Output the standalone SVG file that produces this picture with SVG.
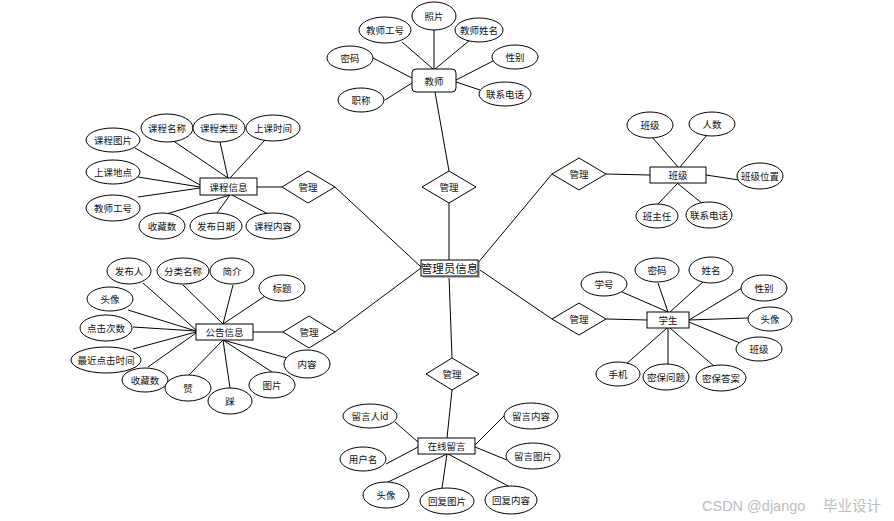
<svg xmlns="http://www.w3.org/2000/svg" width="894" height="521" viewBox="0 0 894 521">
<style>
text{font-family:"Noto Sans CJK SC","Liberation Sans",sans-serif;font-size:9.5px;fill:#111;text-anchor:middle;dominant-baseline:central}
.e{fill:#fff;stroke:#000;stroke-width:1}
.r{fill:#fff;stroke:#000;stroke-width:1}
.d{fill:#fff;stroke:#000;stroke-width:1}
.c line{stroke:#000;stroke-width:1}
.big{font-size:11.5px}
.wm{font-family:"Liberation Sans","Noto Sans CJK SC",sans-serif;font-size:14.5px;fill:#bdbdbd;text-anchor:start}
</style>
<rect width="894" height="521" fill="#fff"/>
<g class="c" id="connectors">
<!-- teacher -->
<line x1="434" y1="30" x2="434" y2="69"/>
<line x1="402" y1="42" x2="433" y2="69"/>
<line x1="470" y1="40" x2="435" y2="69"/>
<line x1="373" y1="58" x2="412" y2="78"/>
<line x1="385" y1="100" x2="412" y2="83"/>
<line x1="495" y1="60" x2="456" y2="80"/>
<line x1="480" y1="90" x2="456" y2="82"/>
<line x1="435" y1="92" x2="449" y2="171"/>
<!-- center -->
<line x1="449" y1="203" x2="449" y2="260"/>
<line x1="335" y1="187" x2="421" y2="267"/>
<line x1="335" y1="332" x2="421" y2="268"/>
<line x1="477" y1="264" x2="552" y2="174"/>
<line x1="477" y1="268" x2="552" y2="319"/>
<line x1="449" y1="276" x2="452" y2="358"/>
<!-- course -->
<line x1="257" y1="187" x2="282" y2="187"/>
<line x1="135" y1="148" x2="200" y2="185"/>
<line x1="172" y1="140" x2="228" y2="178"/>
<line x1="220" y1="142" x2="228" y2="178"/>
<line x1="265" y1="140" x2="230" y2="178"/>
<line x1="138" y1="177" x2="200" y2="187"/>
<line x1="138" y1="197" x2="200" y2="188"/>
<line x1="163" y1="215" x2="230" y2="195"/>
<line x1="217" y1="213" x2="230" y2="195"/>
<line x1="270" y1="215" x2="232" y2="195"/>
<!-- class -->
<line x1="606" y1="174" x2="650" y2="175"/>
<line x1="652" y1="137" x2="678" y2="167"/>
<line x1="707" y1="135" x2="680" y2="167"/>
<line x1="739" y1="180" x2="706" y2="175"/>
<line x1="658" y1="204" x2="678" y2="183"/>
<line x1="703" y1="204" x2="677" y2="183"/>
<!-- student -->
<line x1="606" y1="319" x2="647" y2="320"/>
<line x1="622" y1="292" x2="668" y2="312"/>
<line x1="658" y1="283" x2="668" y2="312"/>
<line x1="703" y1="282" x2="670" y2="312"/>
<line x1="742" y1="288" x2="689" y2="320"/>
<line x1="748" y1="318" x2="689" y2="320"/>
<line x1="740" y1="343" x2="689" y2="322"/>
<line x1="625" y1="365" x2="667" y2="328"/>
<line x1="668" y1="367" x2="668" y2="328"/>
<line x1="715" y1="367" x2="670" y2="328"/>
<!-- announcement -->
<line x1="253" y1="332" x2="283" y2="332"/>
<line x1="143" y1="283" x2="196" y2="330"/>
<line x1="183" y1="285" x2="223" y2="324"/>
<line x1="233" y1="285" x2="223" y2="324"/>
<line x1="265" y1="296" x2="223" y2="324"/>
<line x1="128" y1="310" x2="196" y2="331"/>
<line x1="133" y1="327" x2="196" y2="331"/>
<line x1="133" y1="349" x2="196" y2="332"/>
<line x1="148" y1="367" x2="196" y2="333"/>
<line x1="187" y1="377" x2="223" y2="340"/>
<line x1="230" y1="388" x2="223" y2="340"/>
<line x1="272" y1="372" x2="223" y2="340"/>
<line x1="287" y1="358" x2="223" y2="340"/>
<!-- message -->
<line x1="452" y1="390" x2="447" y2="438"/>
<line x1="395" y1="422" x2="418" y2="442"/>
<line x1="386" y1="464" x2="418" y2="447"/>
<line x1="388" y1="482" x2="447" y2="454"/>
<line x1="442" y1="488" x2="447" y2="454"/>
<line x1="510" y1="487" x2="448" y2="454"/>
<line x1="505" y1="415" x2="475" y2="445"/>
<line x1="507" y1="460" x2="475" y2="447"/>
</g>

<g id="teacher">
<rect class="r" x="412" y="69" width="44" height="23" rx="4"/><text x="434" y="80.5">教师</text>
</g>
<g id="t-photo"><ellipse class="e" cx="434" cy="16" rx="22" ry="14"/><text x="434" y="16">照片</text></g>
<g id="t-no"><ellipse class="e" cx="385" cy="30" rx="26" ry="13"/><text x="385" y="30">教师工号</text></g>
<g id="t-name"><ellipse class="e" cx="479" cy="30" rx="24" ry="12"/><text x="479" y="30">教师姓名</text></g>
<g id="t-pwd"><ellipse class="e" cx="350" cy="58" rx="23" ry="12"/><text x="350" y="58">密码</text></g>
<g id="t-sex"><ellipse class="e" cx="515" cy="57" rx="23" ry="12"/><text x="515" y="57">性别</text></g>
<g id="t-title"><ellipse class="e" cx="361" cy="100" rx="23" ry="12"/><text x="361" y="100">职称</text></g>
<g id="t-tel"><ellipse class="e" cx="505" cy="94" rx="26" ry="12"/><text x="505" y="94">联系电话</text></g>

<g id="admin">
<rect x="423" y="262" width="57" height="16" fill="#bbb"/>
<rect class="r" x="421" y="260" width="57" height="16"/><text class="big" x="449.5" y="268">管理员信息</text>
</g>
<g id="rel-teacher"><polygon class="d" points="449,171 476,187 449,203 422,187"/><text x="449" y="187">管理</text></g>
<g id="rel-course"><polygon class="d" points="308,171 335,187 308,203 282,187"/><text x="308" y="187">管理</text></g>
<g id="rel-notice"><polygon class="d" points="309,316 335,332 309,348 283,332"/><text x="309" y="332">管理</text></g>
<g id="rel-msg"><polygon class="d" points="452,358 479,374 452,390 426,374"/><text x="452" y="374">管理</text></g>
<g id="rel-class"><polygon class="d" points="579,158 606,174 579,190 552,174"/><text x="579" y="174">管理</text></g>
<g id="rel-student"><polygon class="d" points="579,303 606,319 579,335 552,319"/><text x="579" y="319">管理</text></g>

<g id="course"><rect class="r" x="200" y="178" width="57" height="17"/><text x="228.5" y="186.5">课程信息</text></g>
<g id="c-img"><ellipse class="e" cx="113" cy="140" rx="27" ry="12"/><text x="113" y="140">课程图片</text></g>
<g id="c-name"><ellipse class="e" cx="167" cy="128" rx="26" ry="14"/><text x="167" y="128">课程名称</text></g>
<g id="c-type"><ellipse class="e" cx="219" cy="128" rx="26" ry="14"/><text x="219" y="128">课程类型</text></g>
<g id="c-time"><ellipse class="e" cx="273" cy="128" rx="27" ry="13"/><text x="273" y="128">上课时间</text></g>
<g id="c-place"><ellipse class="e" cx="113" cy="172" rx="27" ry="12"/><text x="113" y="172">上课地点</text></g>
<g id="c-tno"><ellipse class="e" cx="113" cy="208" rx="27" ry="13"/><text x="113" y="208">教师工号</text></g>
<g id="c-fav"><ellipse class="e" cx="162" cy="226" rx="23" ry="13"/><text x="162" y="226">收藏数</text></g>
<g id="c-date"><ellipse class="e" cx="216" cy="226" rx="26" ry="13"/><text x="216" y="226">发布日期</text></g>
<g id="c-content"><ellipse class="e" cx="273" cy="226" rx="27" ry="13"/><text x="273" y="226">课程内容</text></g>

<g id="class"><rect class="r" x="650" y="167" width="56" height="16"/><text x="678" y="175">班级</text></g>
<g id="k-name"><ellipse class="e" cx="650" cy="125" rx="23" ry="13"/><text x="650" y="125">班级</text></g>
<g id="k-num"><ellipse class="e" cx="712" cy="124" rx="23" ry="12"/><text x="712" y="124">人数</text></g>
<g id="k-pos"><ellipse class="e" cx="760" cy="176" rx="23" ry="13"/><text x="760" y="176">班级位置</text></g>
<g id="k-head"><ellipse class="e" cx="657" cy="216" rx="21" ry="12"/><text x="657" y="216">班主任</text></g>
<g id="k-tel"><ellipse class="e" cx="709" cy="215" rx="23" ry="13"/><text x="709" y="215">联系电话</text></g>

<g id="student"><rect class="r" x="647" y="312" width="42" height="16"/><text x="668" y="320">学生</text></g>
<g id="s-no"><ellipse class="e" cx="604" cy="284" rx="23" ry="12"/><text x="604" y="284">学号</text></g>
<g id="s-pwd"><ellipse class="e" cx="657" cy="270" rx="22" ry="12"/><text x="657" y="270">密码</text></g>
<g id="s-name"><ellipse class="e" cx="711" cy="270" rx="22" ry="13"/><text x="711" y="270">姓名</text></g>
<g id="s-sex"><ellipse class="e" cx="764" cy="288" rx="23" ry="13"/><text x="764" y="288">性别</text></g>
<g id="s-avatar"><ellipse class="e" cx="770" cy="319" rx="22" ry="12"/><text x="770" y="319">头像</text></g>
<g id="s-class"><ellipse class="e" cx="759" cy="349" rx="23" ry="12"/><text x="759" y="349">班级</text></g>
<g id="s-phone"><ellipse class="e" cx="618" cy="374" rx="22" ry="12"/><text x="618" y="374">手机</text></g>
<g id="s-q"><ellipse class="e" cx="666" cy="377" rx="23" ry="13"/><text x="666" y="377">密保问题</text></g>
<g id="s-a"><ellipse class="e" cx="721" cy="378" rx="25" ry="13"/><text x="721" y="378">密保答案</text></g>

<g id="notice"><rect class="r" x="196" y="324" width="57" height="16"/><text x="224.5" y="332">公告信息</text></g>
<g id="n-pub"><ellipse class="e" cx="129" cy="271" rx="22" ry="13"/><text x="129" y="271">发布人</text></g>
<g id="n-cat"><ellipse class="e" cx="183" cy="271" rx="26" ry="13"/><text x="183" y="271">分类名称</text></g>
<g id="n-intro"><ellipse class="e" cx="232" cy="271" rx="22" ry="13"/><text x="232" y="271">简介</text></g>
<g id="n-title"><ellipse class="e" cx="282" cy="288" rx="23" ry="13"/><text x="282" y="288">标题</text></g>
<g id="n-avatar"><ellipse class="e" cx="110" cy="299" rx="23" ry="12"/><text x="110" y="299">头像</text></g>
<g id="n-clicks"><ellipse class="e" cx="106" cy="328" rx="26" ry="13"/><text x="106" y="328">点击次数</text></g>
<g id="n-last"><ellipse class="e" cx="106" cy="360" rx="35" ry="13"/><text x="106" y="360">最近点击时间</text></g>
<g id="n-fav"><ellipse class="e" cx="145" cy="380" rx="23" ry="12"/><text x="145" y="380">收藏数</text></g>
<g id="n-up"><ellipse class="e" cx="188" cy="388" rx="23" ry="13"/><text x="188" y="388">赞</text></g>
<g id="n-down"><ellipse class="e" cx="230" cy="401" rx="22" ry="13"/><text x="230" y="401">踩</text></g>
<g id="n-img"><ellipse class="e" cx="272" cy="385" rx="23" ry="13"/><text x="272" y="385">图片</text></g>
<g id="n-content"><ellipse class="e" cx="307" cy="364" rx="23" ry="14"/><text x="307" y="364">内容</text></g>

<g id="message"><rect class="r" x="418" y="438" width="57" height="16"/><text x="446.5" y="446">在线留言</text></g>
<g id="m-uid"><ellipse class="e" cx="370" cy="416" rx="27" ry="12"/><text x="370" y="416">留言人id</text></g>
<g id="m-user"><ellipse class="e" cx="363" cy="459" rx="23" ry="12"/><text x="363" y="459">用户名</text></g>
<g id="m-avatar"><ellipse class="e" cx="386" cy="495" rx="23" ry="13"/><text x="386" y="495">头像</text></g>
<g id="m-rimg"><ellipse class="e" cx="447" cy="501" rx="27" ry="13"/><text x="447" y="501">回复图片</text></g>
<g id="m-rcontent"><ellipse class="e" cx="511" cy="500" rx="26" ry="14"/><text x="511" y="500">回复内容</text></g>
<g id="m-content"><ellipse class="e" cx="531" cy="416" rx="27" ry="13"/><text x="531" y="416">留言内容</text></g>
<g id="m-img"><ellipse class="e" cx="533" cy="456" rx="27" ry="13"/><text x="533" y="456">留言图片</text></g>

<text class="wm" x="702" y="506">CSDN @django<tspan x="823">毕业设计</tspan></text>
</svg>
